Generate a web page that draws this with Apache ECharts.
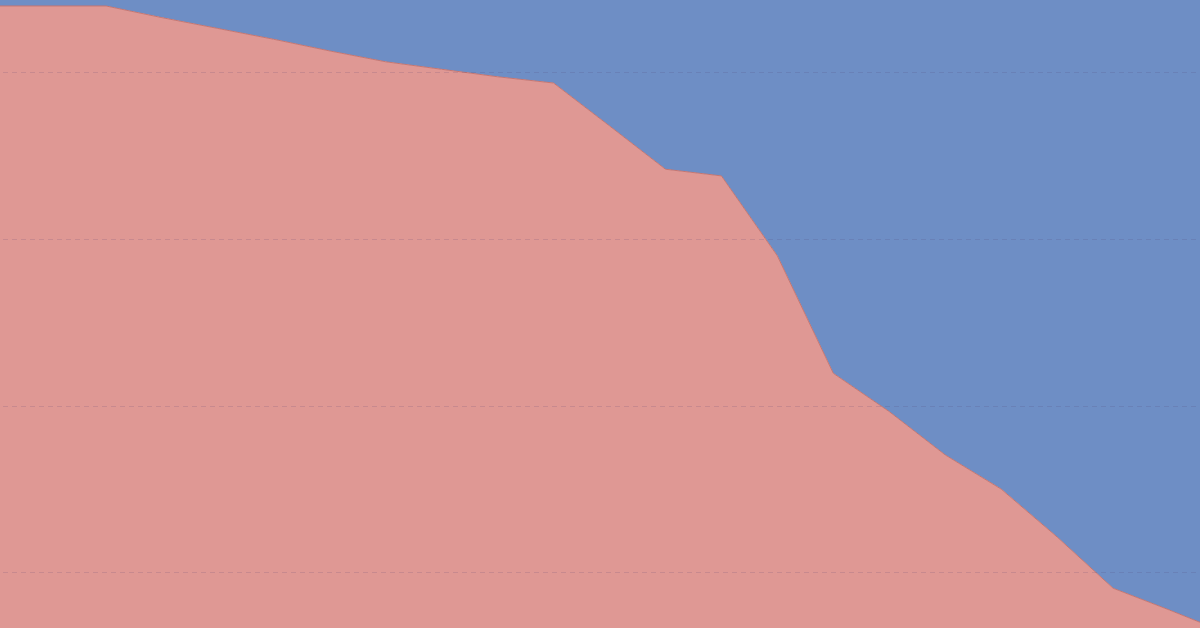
<!DOCTYPE html>
<html>
<head>
<meta charset="utf-8">
<title>Stacked area</title>
<script src="https://cdn.jsdelivr.net/npm/echarts@6/dist/echarts.min.js"></script>
<style>
    html, body {margin: 0; padding: 0; background: #ffffff; overflow: hidden;}
    #frame {position: relative; width: 1200px; height: 628px; overflow: hidden;}
    /* plot is bigger than the window: the picture is a crop of it */
    #chart {position: absolute; left: -6px; top: -94px; width: 1231px; height: 833px;}
</style>
</head>
<body>
<div id="frame"><div id="chart"></div></div>
<script>
// categories (no labels shown in the picture)
var categories = ['1', '2', '3', '4', '5', '6', '7', '8', '9', '10', '11', '12',
    '13', '14', '15', '16', '17', '18', '19', '20', '21', '22', '23'];

// lower (red) share
var redValues = [88, 88, 88, 86.6, 85.3, 84, 82.6, 81.3, 80.4, 79.5, 78.75, 73.6,
    68.4, 67.6, 58, 43.9, 39.3, 34.1, 30, 24.25, 18.1, 15.5, 12.8];

// upper (blue) share fills the rest up to 100
var blueValues = [12, 12, 12, 13.4, 14.7, 16, 17.4, 18.7, 19.6, 20.5, 21.25, 26.4,
    31.6, 32.4, 42, 56.1, 60.7, 65.9, 70, 75.75, 81.9, 84.5, 87.2];

var yTicks = {min: 0, max: 100, interval: 20};

var chart = echarts.init(document.getElementById('chart'));

chart.setOption({
    animation: false,
    backgroundColor: '#ffffff',
    grid: {left: 0, right: 0, top: 0, bottom: 0, containLabel: false},
    xAxis: {
        type: 'category',
        boundaryGap: false,
        data: categories,
        show: false
    },
    yAxis: {
        type: 'value',
        min: yTicks.min,
        max: yTicks.max,
        interval: yTicks.interval,
        z: 5,
        axisLine: {show: false},
        axisTick: {show: false},
        axisLabel: {show: false},
        splitLine: {
            show: true,
            lineStyle: {color: 'rgba(80, 60, 110, 0.16)', type: [5, 4], width: 1.2}
        }
    },
    series: [
        {
            name: 'red',
            type: 'line',
            stack: 'total',
            data: redValues,
            symbol: 'none',
            z: 3,
            lineStyle: {color: '#c47672', width: 1},
            areaStyle: {color: '#df9894', opacity: 1}
        },
        {
            name: 'blue',
            type: 'line',
            stack: 'total',
            data: blueValues,
            symbol: 'none',
            z: 2,
            lineStyle: {color: '#6e8ec5', width: 1},
            areaStyle: {color: '#6e8ec5', opacity: 1}
        }
    ]
});
</script>
</body>
</html>
